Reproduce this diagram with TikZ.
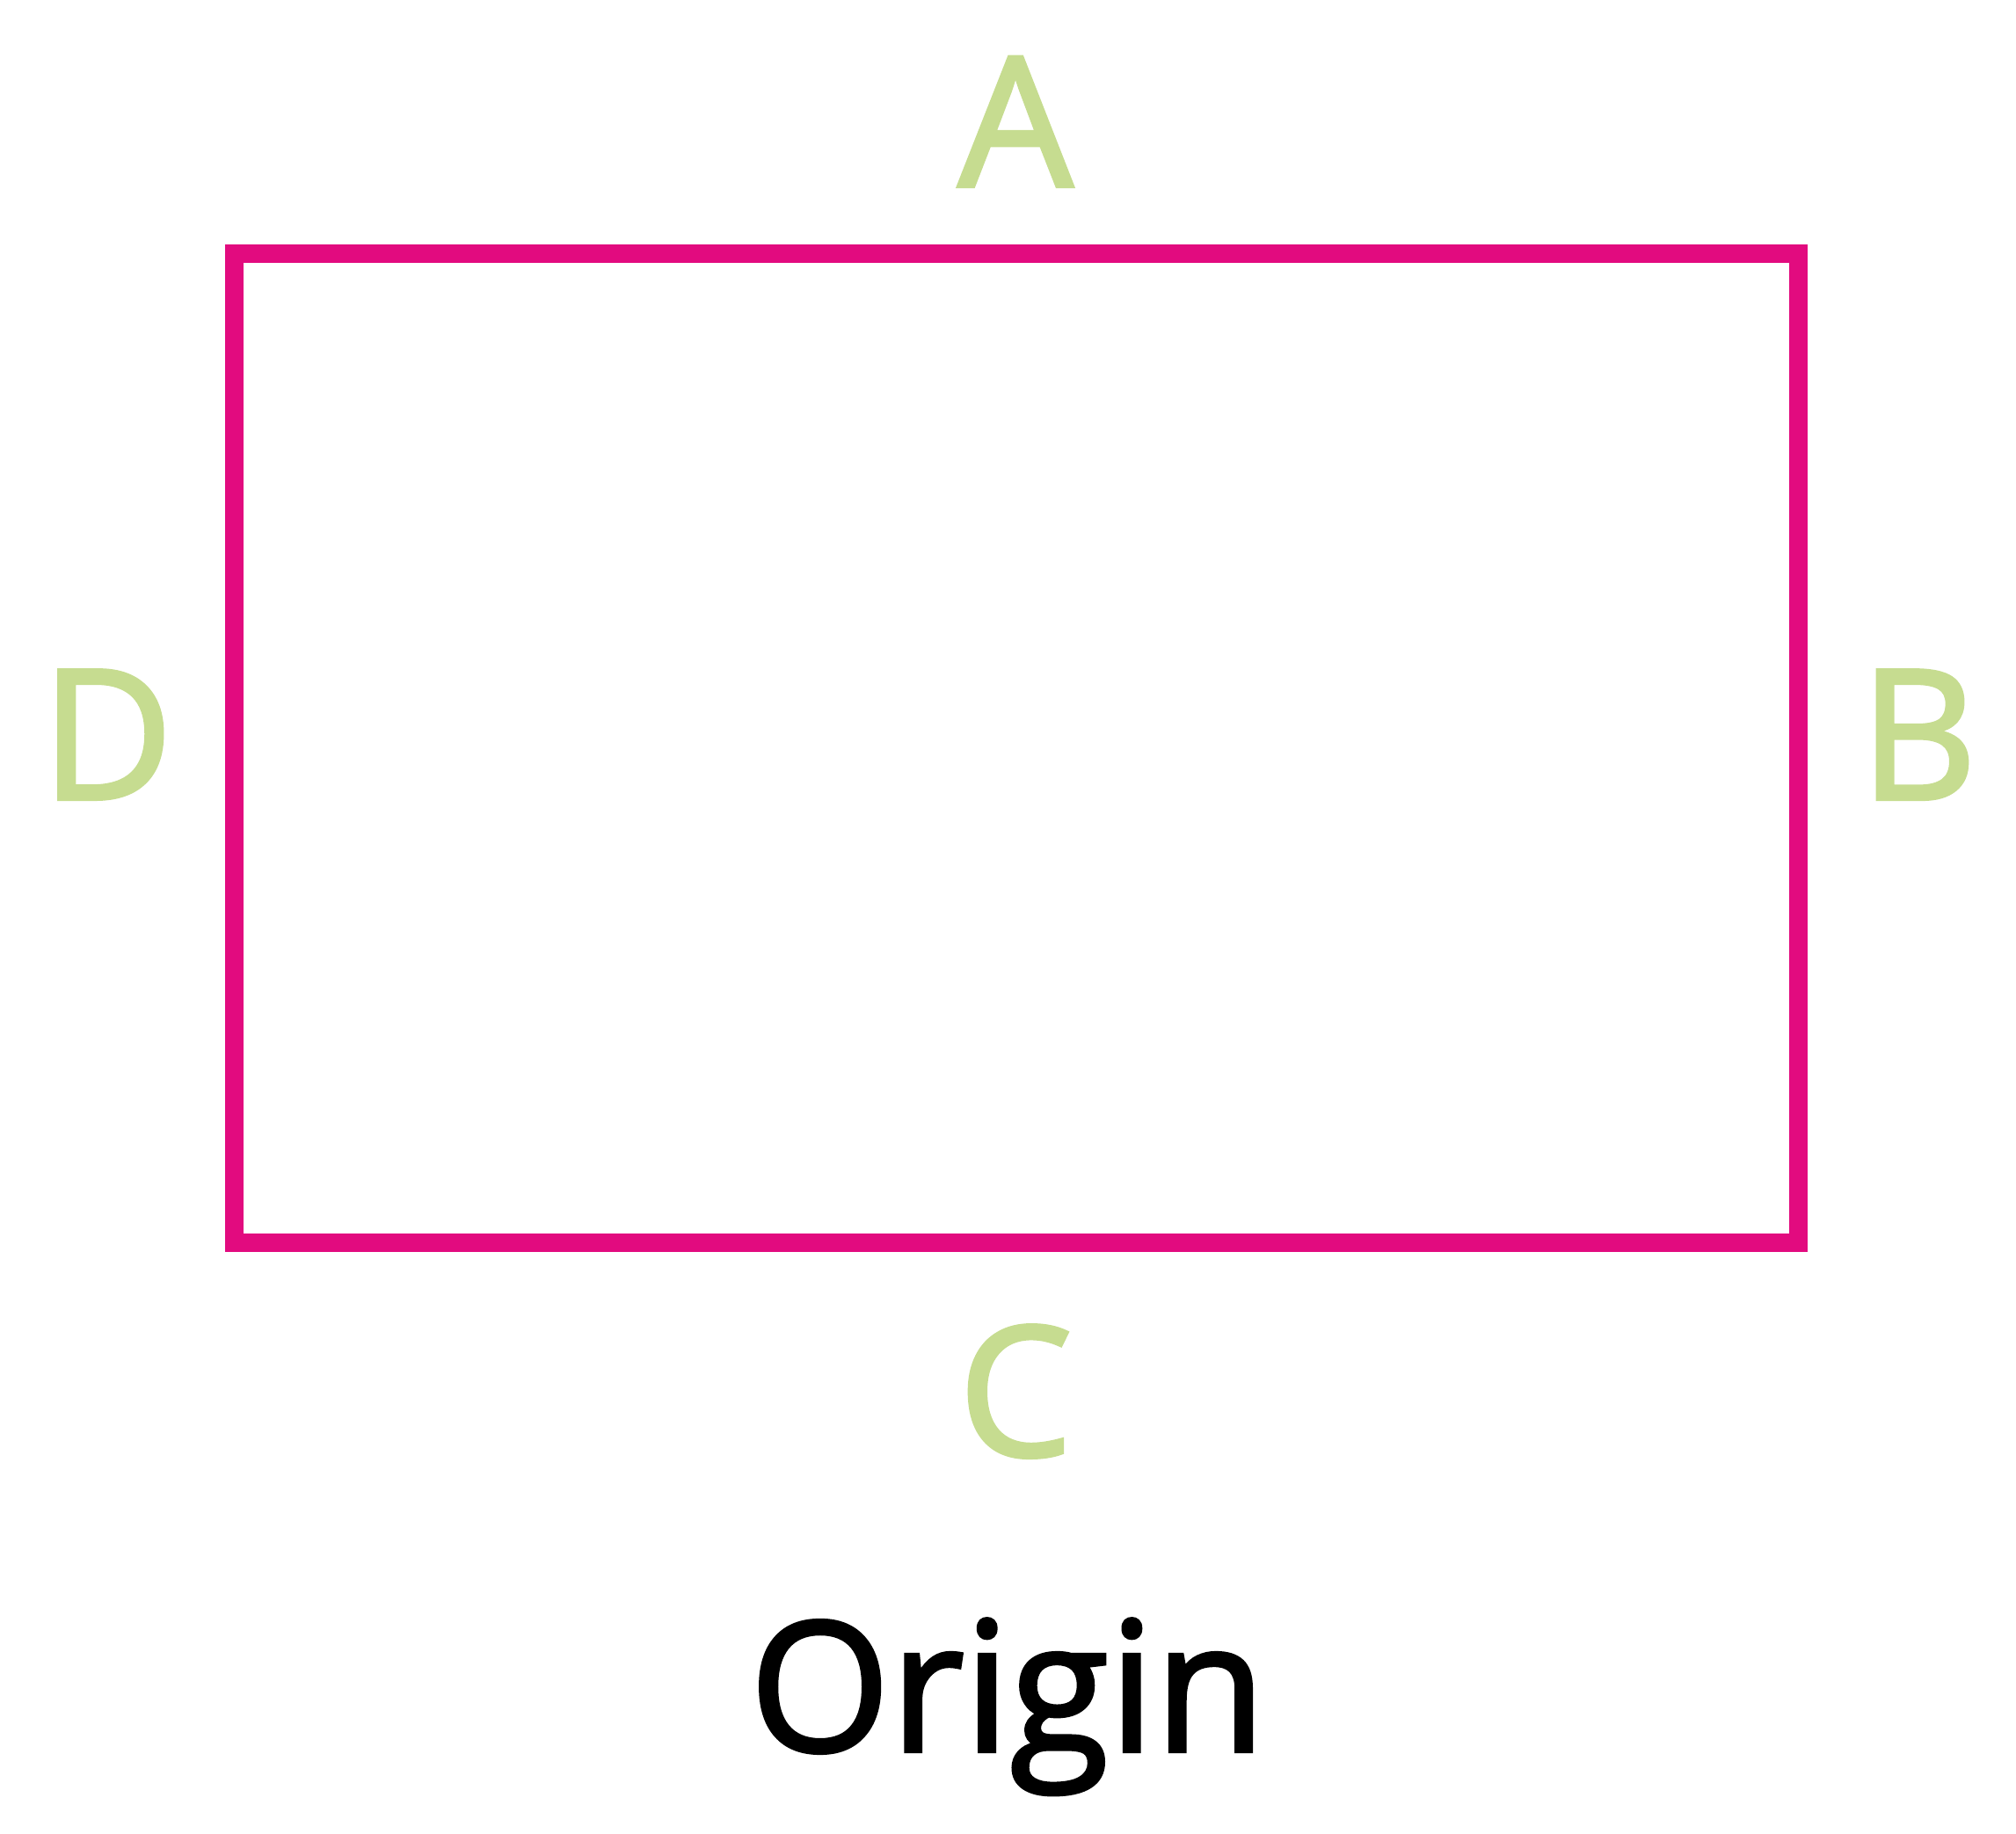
\documentclass[tikz,border=0pt]{standalone}
\usepackage{fontspec}
\setmainfont{Open Sans}
\newfontfamily\labelfont{Open Sans}[FakeBold=2]
\definecolor{framepink}{RGB}{226,11,127}
\definecolor{sidegreen}{RGB}{198,220,144}
\tikzset{
  sidelabel/.style={text=sidegreen,inner sep=0pt,anchor=base,font=\labelfont\fontsize{58.5pt}{60pt}\selectfont},
  titlelabel/.style={text=black,inner sep=0pt,anchor=base,font=\labelfont\fontsize{58.5pt}{60pt}\selectfont}
}
\begin{document}
\begin{tikzpicture}
      \useasboundingbox (0,0) rectangle (22.93,20.85);
      \draw[framepink,line width=0.21cm] (2.66,6.71) rectangle (20.45,17.96);
      \node[sidelabel] (sideA) at (11.55,18.73) {A};
      \node[sidelabel] (sideB) at (21.82,11.76) {B};
      \node[sidelabel] (sideC) at (11.55,4.29) {C};
      \node[sidelabel] (sideD) at (1.22,11.76) {D};
      \node[titlelabel] (origin) at (11.46,0.93) {Origin};
    \end{tikzpicture}
\end{document}
